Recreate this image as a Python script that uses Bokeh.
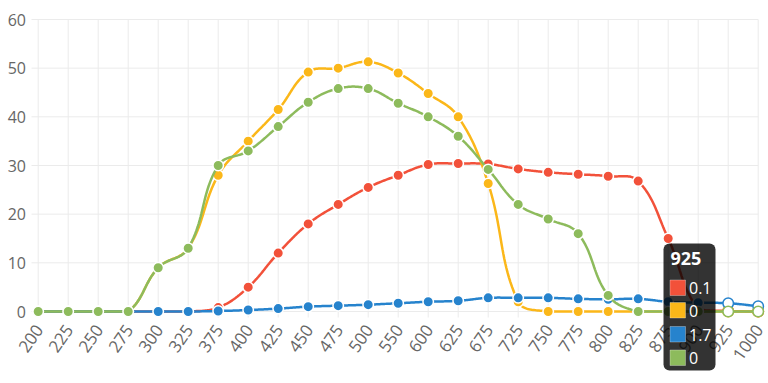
import math
import numpy as np
from bokeh.plotting import figure
from bokeh.models import Range1d, BoxAnnotation, Label, ColumnDataSource
from bokeh.core.properties import value
from bokeh.embed import file_html
from bokeh.resources import INLINE

categories = ["200", "225", "250", "275", "300", "325", "375", "400", "425", "450",
              "475", "500", "550", "600", "625", "675", "725", "750", "775", "800",
              "825", "875", "900", "925", "1000"]
red = [0, 0, 0, 0, 0, 0, 0.8, 5, 12, 18, 22, 25.5, 28, 30.2, 30.4, 30.3, 29.3, 28.6,
       28.2, 27.8, 26.8, 15, 0.6, 0.1, 0]
yellow = [0, 0, 0, 0, 9, 13, 28, 35, 41.5, 49.2, 50, 51.3, 49, 44.8, 40, 26.3, 2, 0,
          0, 0, 0, 0, 0, 0, 0]
blue = [0, 0, 0, 0, 0, 0, 0.1, 0.3, 0.6, 1.0, 1.2, 1.4, 1.7, 2.0, 2.2, 2.8, 2.8, 2.8,
        2.6, 2.5, 2.6, 2.0, 1.8, 1.7, 1.1]
green = [0, 0, 0, 0, 9, 13, 30, 33, 38, 43, 45.8, 45.8, 42.8, 40, 36, 29.2, 22, 19, 16,
         3.3, 0, 0, 0, 0, 0]
y_ticks = [0, 10, 20, 30, 40, 50, 60]
y_tick_labels = ["0", "10", "20", "30", "40", "50", "60"]
open_from = 23          # points drawn hollow from this index on
hover_index = 23        # tooltip category

series = [("red", red, "#f2513a"), ("yellow", yellow, "#fbb719"),
          ("blue", blue, "#2683cd"), ("green", green, "#8dbb5c")]

# layout constants (screenshot pixels of the reference)
PX_X = 30.0
PX_Y = 292.0 / 60.0
Y0_PAGE = 311.0          # y of value 0
X0_PAGE = 37.7           # x of first category
n = len(categories)
y_max = 60
GRID = "#ebebeb"
TICK_COLOR = "#666666"


def dx(px):
    return (px - X0_PAGE) / PX_X


def dy(py):
    return (Y0_PAGE - py) / PX_Y


PAGE_L, PAGE_R, PAGE_T, PAGE_B = 0, 768, 0, 380
x_start, x_end = dx(PAGE_L), dx(PAGE_R)
y_start, y_end = dy(PAGE_B), dy(PAGE_T)
frame_w = PAGE_R - PAGE_L
frame_h = PAGE_B - PAGE_T


def spline_curve(ys, t=0.4, steps=24):
    X = np.arange(len(ys), dtype=float) * PX_X
    Y = np.asarray(ys, dtype=float) * PX_Y
    N = len(X)
    ymin, ymax = 0.0, y_max * PX_Y
    cprev, cnext = [], []
    for i in range(N):
        a = max(i - 1, 0)
        b = min(i + 1, N - 1)
        d01 = math.hypot(X[i] - X[a], Y[i] - Y[a])
        d12 = math.hypot(X[b] - X[i], Y[b] - Y[i])
        s = d01 + d12
        s01 = d01 / s if s else 0.0
        s12 = d12 / s if s else 0.0
        fa, fb = t * s01, t * s12
        px = X[i] - fa * (X[b] - X[a]); py = Y[i] - fa * (Y[b] - Y[a])
        nx = X[i] + fb * (X[b] - X[a]); ny = Y[i] + fb * (Y[b] - Y[a])
        px = min(max(px, X[0]), X[-1]); nx = min(max(nx, X[0]), X[-1])
        py = min(max(py, ymin), ymax); ny = min(max(ny, ymin), ymax)
        cprev.append((px, py)); cnext.append((nx, ny))
    xs, ys_out = [X[0]], [Y[0]]
    tt = np.linspace(0, 1, steps + 1)[1:]
    for i in range(N - 1):
        p0 = (X[i], Y[i]); p1 = cnext[i]; p2 = cprev[i + 1]; p3 = (X[i + 1], Y[i + 1])
        for u in tt:
            m = 1 - u
            bx = m**3 * p0[0] + 3 * m * m * u * p1[0] + 3 * m * u * u * p2[0] + u**3 * p3[0]
            by = m**3 * p0[1] + 3 * m * m * u * p1[1] + 3 * m * u * u * p2[1] + u**3 * p3[1]
            xs.append(bx); ys_out.append(by)
    return np.array(xs) / PX_X, np.array(ys_out) / PX_Y


p = figure(frame_width=frame_w, frame_height=frame_h,
           x_range=Range1d(x_start, x_end), y_range=Range1d(y_start, y_end),
           output_backend="svg", toolbar_location=None,
           min_border_left=0, min_border_top=0, min_border_right=0,
           min_border_bottom=0, background_fill_color="white",
           border_fill_color="white")
p.outline_line_color = None
p.xaxis.visible = False
p.yaxis.visible = False
p.xgrid.visible = False
p.ygrid.visible = False

idx = list(range(n))
# grid lines (extending a little outside the chart area like tick marks)
p.segment(x0=idx, y0=[dy(Y0_PAGE + 6)] * n, x1=idx, y1=[y_max] * n,
          line_color=GRID, line_width=1)
p.segment(x0=[dx(31)] * len(y_ticks), y0=y_ticks, x1=[n - 1] * len(y_ticks), y1=y_ticks,
          line_color=GRID, line_width=1)

# y tick labels
p.text(x=[dx(25.5)] * len(y_ticks), y=y_ticks, text=y_tick_labels,
       text_align="right", text_baseline="middle",
       text_font=value("Open Sans"), text_font_size="16px", text_color=TICK_COLOR)

# category labels, rotated
p.text(x=[i + 1.0 / PX_X for i in idx], y=[dy(326)] * n, text=categories,
       angle=math.radians(55), text_align="right", text_baseline="middle",
       text_font=value("Open Sans"), text_font_size="17px", text_color=TICK_COLOR)

for name, vals, col in series:
    cx, cy = spline_curve(vals)
    p.line(cx, cy, line_color=col, line_width=2.5)
    fills = [col if i < open_from else "white" for i in range(n)]
    lines = ["white" if i < open_from else col for i in range(n)]
    src = ColumnDataSource(dict(x=idx, y=vals, fill=fills, lc=lines))
    p.scatter("x", "y", source=src, size=10.5, fill_color="fill", line_color="lc",
              line_width=1.5)

# tooltip
p.add_layout(BoxAnnotation(left=dx(663), right=dx(715), top=dy(243), bottom=dy(370),
                           fill_color="black", fill_alpha=0.8, line_color=None,
                           border_radius=6, level="overlay"))
p.add_layout(Label(x=dx(670), y=dy(258), text=categories[hover_index],
                   text_color="white", text_font="Open Sans", text_font_style="bold",
                   text_font_size="18px", text_baseline="middle", level="overlay"))
row_tops = [279.5, 302, 326, 349.5]
for (name, vals, col), top in zip(series, row_tops):
    p.add_layout(BoxAnnotation(left=dx(669.5), right=dx(685), top=dy(top), bottom=dy(top + 15.5),
                               fill_color=col, fill_alpha=1, line_color="white",
                               line_width=1, level="overlay"))
    p.add_layout(Label(x=dx(688.5), y=dy(top + 8), text=f"{vals[hover_index]:g}",
                       text_color="white", text_font="Open Sans",
                       text_font_size="16px", text_baseline="middle", level="overlay"))

open("out.html", "w").write(file_html(p, INLINE))
